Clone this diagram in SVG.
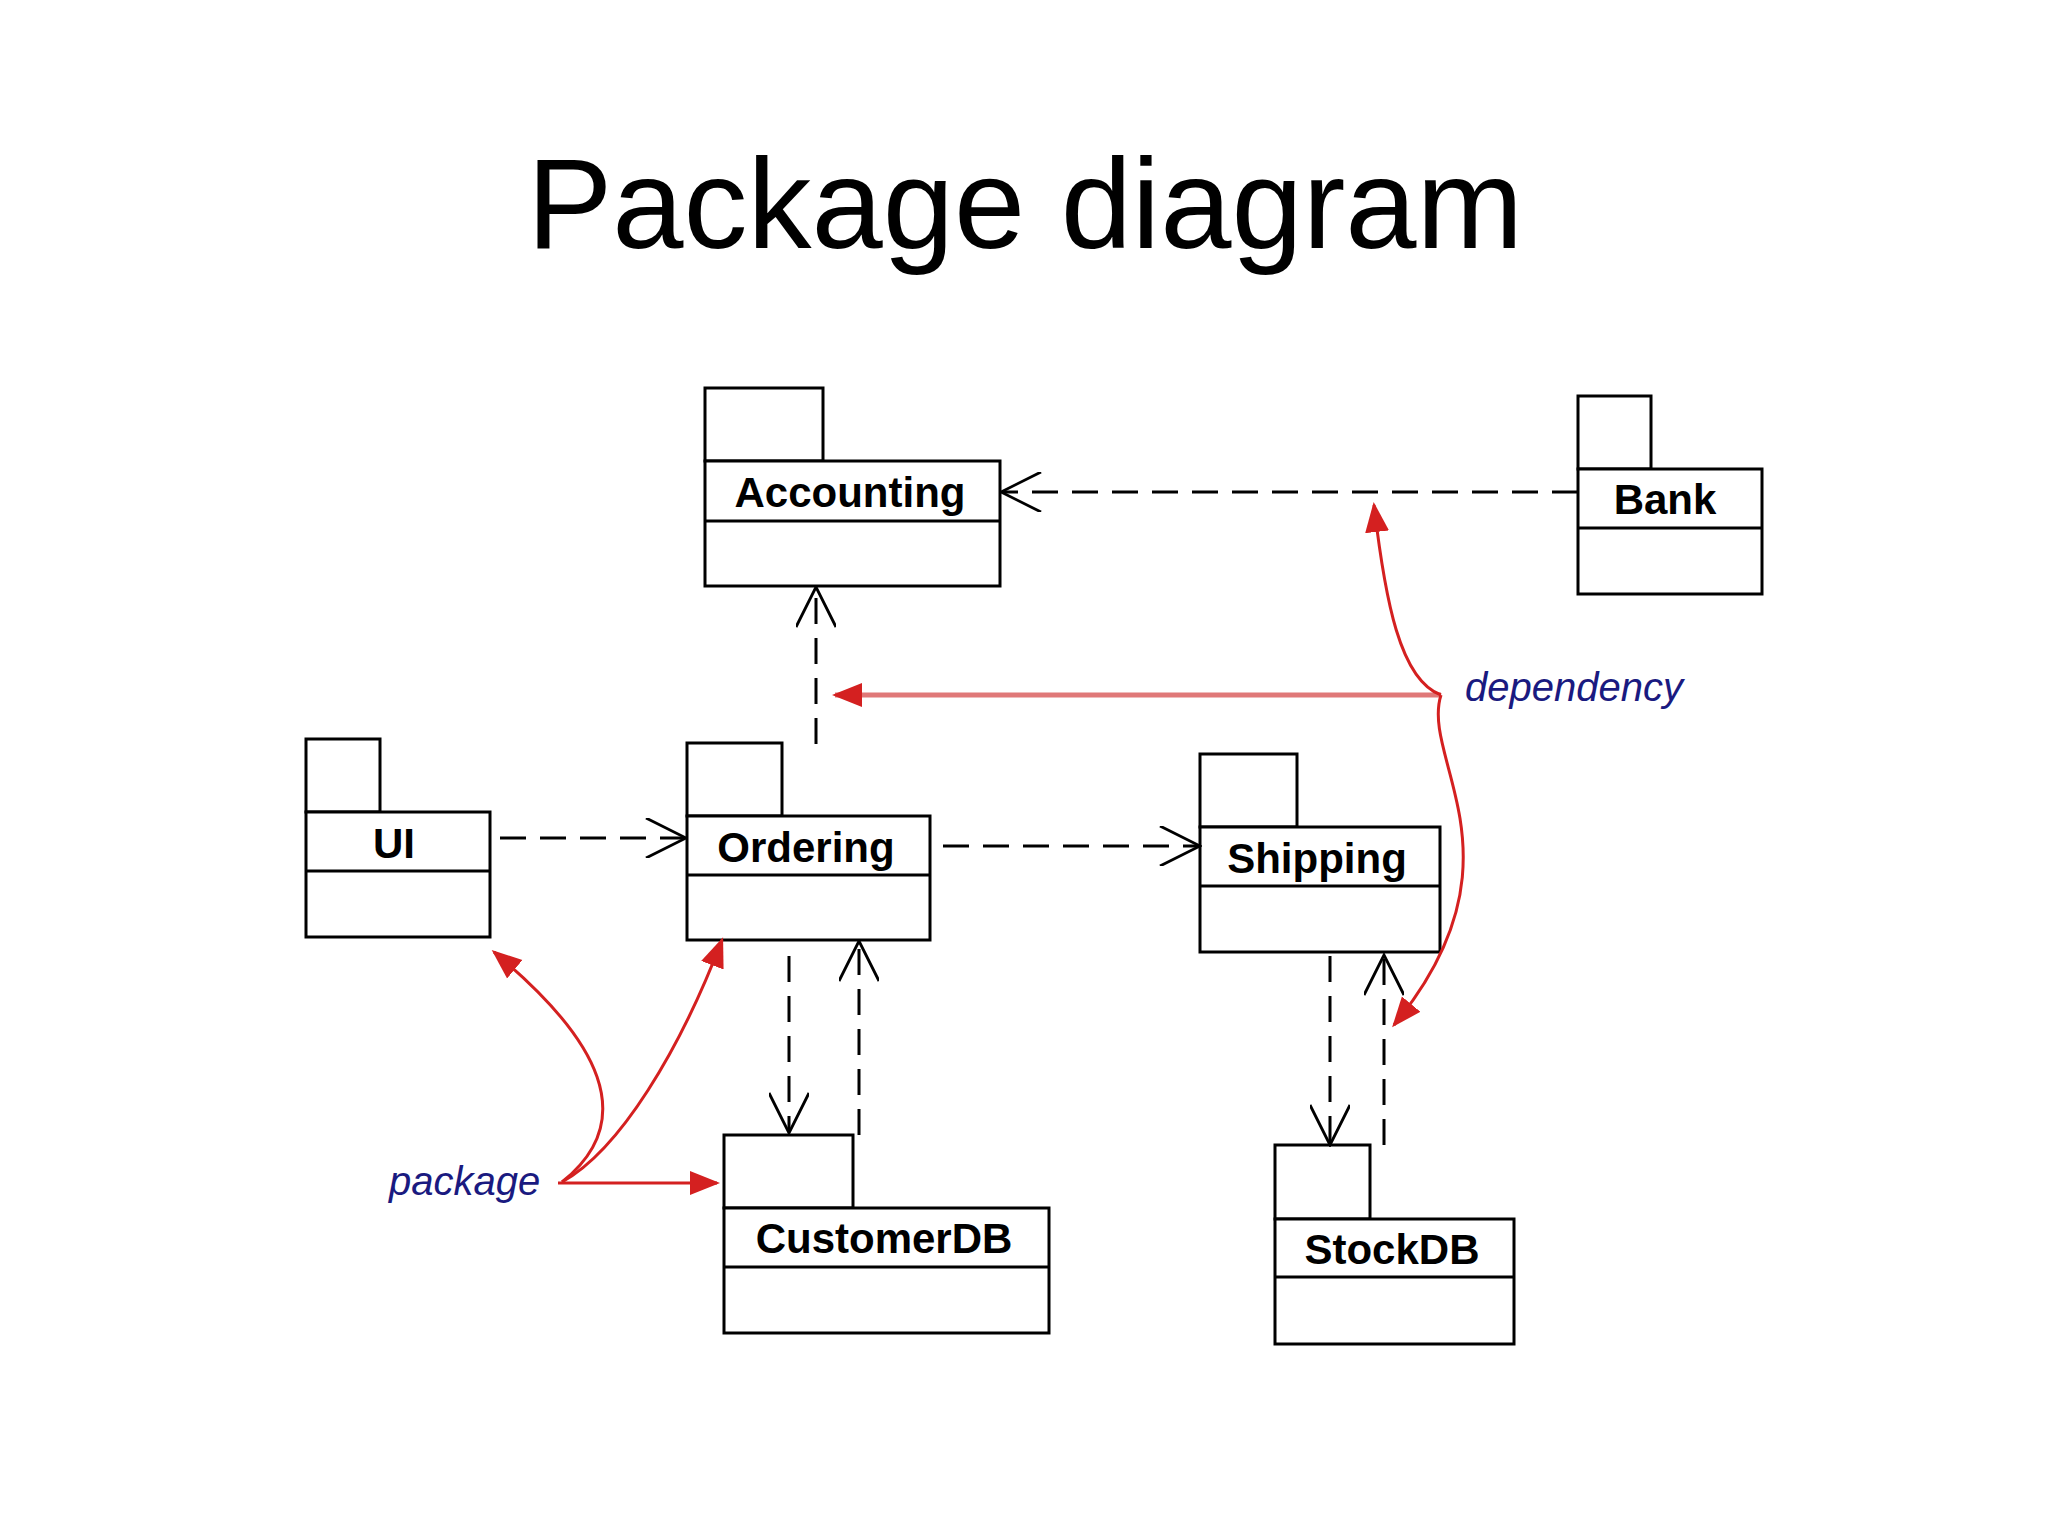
<svg xmlns="http://www.w3.org/2000/svg" width="2048" height="1536" viewBox="0 0 2048 1536">
<defs>
<style>
.b{fill:#fff;stroke:#000;stroke-width:3}
.l{font-family:"Liberation Sans",Arial,sans-serif;font-weight:bold;font-size:42px;text-anchor:middle}
.d{fill:none;stroke:#000;stroke-width:3;stroke-dasharray:26 14}
.r{fill:none;stroke:#d42020;stroke-width:3}
.n{font-family:"Liberation Sans",Arial,sans-serif;font-style:italic;font-size:40px;fill:#1a1a80}
</style>
<marker id="o" viewBox="0 0 20 20" refX="19" refY="10" markerWidth="44" markerHeight="40" markerUnits="userSpaceOnUse" orient="auto"><path d="M0,0 L20,10 L0,20" fill="none" stroke="#000" stroke-width="1.4"/></marker>
<marker id="ra" viewBox="0 0 20 20" refX="18" refY="10" markerWidth="10" markerHeight="10" orient="auto"><path d="M0,2 L20,10 L0,18 z" fill="#d42020"/></marker>
<marker id="rb" viewBox="0 0 20 20" refX="18" refY="10" markerWidth="6" markerHeight="6" orient="auto"><path d="M0,2 L20,10 L0,18 z" fill="#d42020"/></marker>
</defs>
<rect width="2048" height="1536" fill="#fff"/>
<text x="1025" y="248" font-family="'Liberation Sans',sans-serif" font-size="128" text-anchor="middle">Package diagram</text>
<g id="Accounting"><rect class="b" x="705" y="388" width="118" height="73"/><rect class="b" x="705" y="461" width="295" height="125"/><line x1="705" y1="521" x2="1000" y2="521" stroke="#000" stroke-width="3"/><text class="l" x="850" y="507">Accounting</text></g>
<g id="Bank"><rect class="b" x="1578" y="396" width="73" height="73"/><rect class="b" x="1578" y="469" width="184" height="125"/><line x1="1578" y1="528" x2="1762" y2="528" stroke="#000" stroke-width="3"/><text class="l" x="1665" y="514">Bank</text></g>
<g id="UI"><rect class="b" x="306" y="739" width="74" height="73"/><rect class="b" x="306" y="812" width="184" height="125"/><line x1="306" y1="871" x2="490" y2="871" stroke="#000" stroke-width="3"/><text class="l" x="394" y="858">UI</text></g>
<g id="Ordering"><rect class="b" x="687" y="743" width="95" height="73"/><rect class="b" x="687" y="816" width="243" height="124"/><line x1="687" y1="875" x2="930" y2="875" stroke="#000" stroke-width="3"/><text class="l" x="806" y="862">Ordering</text></g>
<g id="Shipping"><rect class="b" x="1200" y="754" width="97" height="73"/><rect class="b" x="1200" y="827" width="240" height="125"/><line x1="1200" y1="886" x2="1440" y2="886" stroke="#000" stroke-width="3"/><text class="l" x="1317" y="873">Shipping</text></g>
<g id="CustomerDB"><rect class="b" x="724" y="1135" width="129" height="73"/><rect class="b" x="724" y="1208" width="325" height="125"/><line x1="724" y1="1267" x2="1049" y2="1267" stroke="#000" stroke-width="3"/><text class="l" x="884" y="1253">CustomerDB</text></g>
<g id="StockDB"><rect class="b" x="1275" y="1145" width="95" height="74"/><rect class="b" x="1275" y="1219" width="239" height="125"/><line x1="1275" y1="1277" x2="1514" y2="1277" stroke="#000" stroke-width="3"/><text class="l" x="1392" y="1264">StockDB</text></g>
<g id="connectors">
<path class="d" d="M1578,492 H1003" marker-end="url(#o)"/>
<path class="d" d="M816,744 V589" marker-end="url(#o)"/>
<path class="d" d="M500,838 H684" marker-end="url(#o)"/>
<path class="d" d="M943,846 H1198" marker-end="url(#o)"/>
<path class="d" d="M789,956 V1131" marker-end="url(#o)"/>
<path class="d" d="M859,1135 V943" marker-end="url(#o)"/>
<path class="d" d="M1330,956 V1143" marker-end="url(#o)"/>
<path class="d" d="M1384,1145 V957" marker-end="url(#o)"/>
</g>
<g id="annotations">
<path d="M1441,695 H835" stroke="#e07878" stroke-width="5" fill="none" marker-end="url(#rb)"/>
<path class="r" d="M1441,695 C1400,680 1385,600 1374,505" marker-end="url(#ra)"/>
<path class="r" d="M1441,695 C1420,760 1530,860 1394,1025" marker-end="url(#ra)"/>
<path class="r" d="M562,1182 C640,1120 600,1040 494,952" marker-end="url(#ra)"/>
<path class="r" d="M562,1182 C620,1150 680,1050 722,940" marker-end="url(#ra)"/>
<path class="r" d="M558,1183 H717" marker-end="url(#ra)"/>
<text class="n" x="1465" y="701">dependency</text>
<text class="n" x="389" y="1195">package</text>
</g>
</svg>
